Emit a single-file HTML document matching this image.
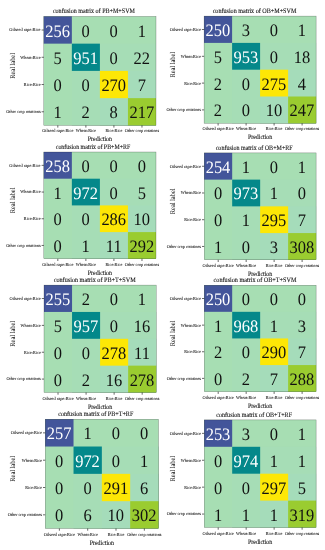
<!DOCTYPE html>
<html><head><meta charset="utf-8"><title>confusion matrices</title>
<style>html,body{margin:0;padding:0;background:#fff}svg{display:block}text{font-family:"Liberation Serif",serif;fill:#111;text-rendering:geometricPrecision}.t{fill:#000;stroke:#000;stroke-width:.04px}.s{stroke:#111;stroke-width:.1px}</style></head>
<body>
<svg width="325" height="550" viewBox="0 0 325 550">
<rect width="325" height="550" fill="#fff"/>
<g>
<rect x="43.8" y="16.4" width="112.2" height="109" fill="#a7deb3"/>
<rect x="71.85" y="43.65" width="84.15" height="81.75" fill="#a6ddb6"/>
<rect x="99.9" y="70.9" width="56.1" height="54.5" fill="#a5dcba"/>
<rect x="43.8" y="16.4" width="28.05" height="27.25" fill="#43559a"/>
<rect x="71.85" y="43.65" width="28.05" height="27.25" fill="#04888a"/>
<rect x="99.9" y="70.9" width="28.05" height="27.25" fill="#fde706"/>
<rect x="127.95" y="98.15" width="28.05" height="27.25" fill="#9acc30"/>
<rect x="43.8" y="16.4" width="112.2" height="109" fill="none" stroke="#000" stroke-width=".4" opacity=".5"/>
<text x="52.9" y="13.2" font-size="6.9" class="s" textLength="82" lengthAdjust="spacingAndGlyphs">confusion matrix of PB+M+SVM</text>
<text transform="translate(57.62 36.52) scale(.94 1)" text-anchor="middle" font-size="17.5" style="fill:#fff">256</text>
<text transform="translate(85.67 36.52) scale(.94 1)" text-anchor="middle" font-size="17.5" style="fill:#111">0</text>
<text transform="translate(113.72 36.52) scale(.94 1)" text-anchor="middle" font-size="17.5" style="fill:#111">0</text>
<text transform="translate(141.78 36.52) scale(.94 1)" text-anchor="middle" font-size="17.5" style="fill:#111">1</text>
<text transform="translate(57.62 63.77) scale(.94 1)" text-anchor="middle" font-size="17.5" style="fill:#111">5</text>
<text transform="translate(85.67 63.77) scale(.94 1)" text-anchor="middle" font-size="17.5" style="fill:#fff">951</text>
<text transform="translate(113.72 63.77) scale(.94 1)" text-anchor="middle" font-size="17.5" style="fill:#111">0</text>
<text transform="translate(141.78 63.77) scale(.94 1)" text-anchor="middle" font-size="17.5" style="fill:#111">22</text>
<text transform="translate(57.62 91.03) scale(.94 1)" text-anchor="middle" font-size="17.5" style="fill:#111">0</text>
<text transform="translate(85.67 91.03) scale(.94 1)" text-anchor="middle" font-size="17.5" style="fill:#111">0</text>
<text transform="translate(113.72 91.03) scale(.94 1)" text-anchor="middle" font-size="17.5" style="fill:#111">270</text>
<text transform="translate(141.78 91.03) scale(.94 1)" text-anchor="middle" font-size="17.5" style="fill:#111">7</text>
<text transform="translate(57.62 118.28) scale(.94 1)" text-anchor="middle" font-size="17.5" style="fill:#111">1</text>
<text transform="translate(85.67 118.28) scale(.94 1)" text-anchor="middle" font-size="17.5" style="fill:#111">2</text>
<text transform="translate(113.72 118.28) scale(.94 1)" text-anchor="middle" font-size="17.5" style="fill:#111">8</text>
<text transform="translate(141.78 118.28) scale(.94 1)" text-anchor="middle" font-size="17.5" style="fill:#111">217</text>
<path d="M41.6 30.02H43.8M57.82 125.4V127.6" stroke="#000" stroke-width=".6" fill="none"/>
<text class="t" x="9.35" y="31.42" font-size="4.5" textLength="31.2" lengthAdjust="spacingAndGlyphs">Oilseed rape-Rice</text>
<text class="t" x="42.22" y="132.4" font-size="4.5" textLength="31.2" lengthAdjust="spacingAndGlyphs">Oilseed rape-Rice</text>
<path d="M41.6 57.27H43.8M85.88 125.4V127.6" stroke="#000" stroke-width=".6" fill="none"/>
<text class="t" x="20.35" y="58.67" font-size="4.5" textLength="20.2" lengthAdjust="spacingAndGlyphs">Wheat-Rice</text>
<text class="t" x="75.78" y="132.4" font-size="4.5" textLength="20.2" lengthAdjust="spacingAndGlyphs">Wheat-Rice</text>
<path d="M41.6 84.53H43.8M113.92 125.4V127.6" stroke="#000" stroke-width=".6" fill="none"/>
<text class="t" x="23.85" y="85.93" font-size="4.5" textLength="16.7" lengthAdjust="spacingAndGlyphs">Rice-Rice</text>
<text class="t" x="105.58" y="132.4" font-size="4.5" textLength="16.7" lengthAdjust="spacingAndGlyphs">Rice-Rice</text>
<path d="M41.6 111.78H43.8M141.97 125.4V127.6" stroke="#000" stroke-width=".6" fill="none"/>
<text class="t" x="6.25" y="113.18" font-size="4.5" textLength="34.3" lengthAdjust="spacingAndGlyphs">Other crop rotations</text>
<text class="t" x="124.82" y="132.4" font-size="4.5" textLength="34.3" lengthAdjust="spacingAndGlyphs">Other crop rotations</text>
<text x="87.8" y="141.4" class="s" font-size="6.9" textLength="24.2" lengthAdjust="spacingAndGlyphs">Prediction</text>
<text transform="translate(14.5 78.75) rotate(-90)" font-size="7.3" textLength="25.7" lengthAdjust="spacingAndGlyphs">Real label</text>
</g>
<g>
<rect x="204.1" y="16.1" width="112" height="107.2" fill="#a7deb3"/>
<rect x="232.1" y="42.9" width="84" height="80.4" fill="#a6ddb6"/>
<rect x="260.1" y="69.7" width="56" height="53.6" fill="#a5dcba"/>
<rect x="204.1" y="16.1" width="28" height="26.8" fill="#43559a"/>
<rect x="232.1" y="42.9" width="28" height="26.8" fill="#04888a"/>
<rect x="260.1" y="69.7" width="28" height="26.8" fill="#fde706"/>
<rect x="288.1" y="96.5" width="28" height="26.8" fill="#9acc30"/>
<rect x="204.1" y="16.1" width="112" height="107.2" fill="none" stroke="#000" stroke-width=".4" opacity=".5"/>
<text x="212.65" y="12.9" font-size="6.9" class="s" textLength="83.7" lengthAdjust="spacingAndGlyphs">confusion matrix of OB+M+SVM</text>
<text transform="translate(217.9 36) scale(.94 1)" text-anchor="middle" font-size="17.5" style="fill:#fff">250</text>
<text transform="translate(245.9 36) scale(.94 1)" text-anchor="middle" font-size="17.5" style="fill:#111">3</text>
<text transform="translate(273.9 36) scale(.94 1)" text-anchor="middle" font-size="17.5" style="fill:#111">0</text>
<text transform="translate(301.9 36) scale(.94 1)" text-anchor="middle" font-size="17.5" style="fill:#111">1</text>
<text transform="translate(217.9 62.8) scale(.94 1)" text-anchor="middle" font-size="17.5" style="fill:#111">5</text>
<text transform="translate(245.9 62.8) scale(.94 1)" text-anchor="middle" font-size="17.5" style="fill:#fff">953</text>
<text transform="translate(273.9 62.8) scale(.94 1)" text-anchor="middle" font-size="17.5" style="fill:#111">0</text>
<text transform="translate(301.9 62.8) scale(.94 1)" text-anchor="middle" font-size="17.5" style="fill:#111">18</text>
<text transform="translate(217.9 89.6) scale(.94 1)" text-anchor="middle" font-size="17.5" style="fill:#111">2</text>
<text transform="translate(245.9 89.6) scale(.94 1)" text-anchor="middle" font-size="17.5" style="fill:#111">0</text>
<text transform="translate(273.9 89.6) scale(.94 1)" text-anchor="middle" font-size="17.5" style="fill:#111">275</text>
<text transform="translate(301.9 89.6) scale(.94 1)" text-anchor="middle" font-size="17.5" style="fill:#111">4</text>
<text transform="translate(217.9 116.4) scale(.94 1)" text-anchor="middle" font-size="17.5" style="fill:#111">2</text>
<text transform="translate(245.9 116.4) scale(.94 1)" text-anchor="middle" font-size="17.5" style="fill:#111">0</text>
<text transform="translate(273.9 116.4) scale(.94 1)" text-anchor="middle" font-size="17.5" style="fill:#111">10</text>
<text transform="translate(301.9 116.4) scale(.94 1)" text-anchor="middle" font-size="17.5" style="fill:#111">247</text>
<path d="M201.9 29.5H204.1M218.1 123.3V125.5" stroke="#000" stroke-width=".6" fill="none"/>
<text class="t" x="169.65" y="30.9" font-size="4.5" textLength="31.2" lengthAdjust="spacingAndGlyphs">Oilseed rape-Rice</text>
<text class="t" x="202.5" y="130.3" font-size="4.5" textLength="31.2" lengthAdjust="spacingAndGlyphs">Oilseed rape-Rice</text>
<path d="M201.9 56.3H204.1M246.1 123.3V125.5" stroke="#000" stroke-width=".6" fill="none"/>
<text class="t" x="180.65" y="57.7" font-size="4.5" textLength="20.2" lengthAdjust="spacingAndGlyphs">Wheat-Rice</text>
<text class="t" x="236" y="130.3" font-size="4.5" textLength="20.2" lengthAdjust="spacingAndGlyphs">Wheat-Rice</text>
<path d="M201.9 83.1H204.1M274.1 123.3V125.5" stroke="#000" stroke-width=".6" fill="none"/>
<text class="t" x="184.15" y="84.5" font-size="4.5" textLength="16.7" lengthAdjust="spacingAndGlyphs">Rice-Rice</text>
<text class="t" x="265.75" y="130.3" font-size="4.5" textLength="16.7" lengthAdjust="spacingAndGlyphs">Rice-Rice</text>
<path d="M201.9 109.9H204.1M302.1 123.3V125.5" stroke="#000" stroke-width=".6" fill="none"/>
<text class="t" x="166.55" y="111.3" font-size="4.5" textLength="34.3" lengthAdjust="spacingAndGlyphs">Other crop rotations</text>
<text class="t" x="284.95" y="130.3" font-size="4.5" textLength="34.3" lengthAdjust="spacingAndGlyphs">Other crop rotations</text>
<text x="248" y="139.3" class="s" font-size="6.9" textLength="24.2" lengthAdjust="spacingAndGlyphs">Prediction</text>
<text transform="translate(174.5 77.55) rotate(-90)" font-size="7.3" textLength="25.7" lengthAdjust="spacingAndGlyphs">Real label</text>
</g>
<g>
<rect x="43.8" y="152" width="112.2" height="106.8" fill="#a7deb3"/>
<rect x="71.85" y="178.7" width="84.15" height="80.1" fill="#a6ddb6"/>
<rect x="99.9" y="205.4" width="56.1" height="53.4" fill="#a5dcba"/>
<rect x="43.8" y="152" width="28.05" height="26.7" fill="#43559a"/>
<rect x="71.85" y="178.7" width="28.05" height="26.7" fill="#04888a"/>
<rect x="99.9" y="205.4" width="28.05" height="26.7" fill="#fde706"/>
<rect x="127.95" y="232.1" width="28.05" height="26.7" fill="#9acc30"/>
<rect x="43.8" y="152" width="112.2" height="106.8" fill="none" stroke="#000" stroke-width=".4" opacity=".5"/>
<text x="55.8" y="148.8" font-size="6.9" class="s" textLength="74.4" lengthAdjust="spacingAndGlyphs">confusion matrix of PB+M+RF</text>
<text transform="translate(57.62 171.85) scale(.94 1)" text-anchor="middle" font-size="17.5" style="fill:#fff">258</text>
<text transform="translate(85.67 171.85) scale(.94 1)" text-anchor="middle" font-size="17.5" style="fill:#111">0</text>
<text transform="translate(113.72 171.85) scale(.94 1)" text-anchor="middle" font-size="17.5" style="fill:#111">0</text>
<text transform="translate(141.78 171.85) scale(.94 1)" text-anchor="middle" font-size="17.5" style="fill:#111">0</text>
<text transform="translate(57.62 198.55) scale(.94 1)" text-anchor="middle" font-size="17.5" style="fill:#111">1</text>
<text transform="translate(85.67 198.55) scale(.94 1)" text-anchor="middle" font-size="17.5" style="fill:#fff">972</text>
<text transform="translate(113.72 198.55) scale(.94 1)" text-anchor="middle" font-size="17.5" style="fill:#111">0</text>
<text transform="translate(141.78 198.55) scale(.94 1)" text-anchor="middle" font-size="17.5" style="fill:#111">5</text>
<text transform="translate(57.62 225.25) scale(.94 1)" text-anchor="middle" font-size="17.5" style="fill:#111">0</text>
<text transform="translate(85.67 225.25) scale(.94 1)" text-anchor="middle" font-size="17.5" style="fill:#111">0</text>
<text transform="translate(113.72 225.25) scale(.94 1)" text-anchor="middle" font-size="17.5" style="fill:#111">286</text>
<text transform="translate(141.78 225.25) scale(.94 1)" text-anchor="middle" font-size="17.5" style="fill:#111">10</text>
<text transform="translate(57.62 251.95) scale(.94 1)" text-anchor="middle" font-size="17.5" style="fill:#111">0</text>
<text transform="translate(85.67 251.95) scale(.94 1)" text-anchor="middle" font-size="17.5" style="fill:#111">1</text>
<text transform="translate(113.72 251.95) scale(.94 1)" text-anchor="middle" font-size="17.5" style="fill:#111">11</text>
<text transform="translate(141.78 251.95) scale(.94 1)" text-anchor="middle" font-size="17.5" style="fill:#111">292</text>
<path d="M41.6 165.35H43.8M57.82 258.8V261" stroke="#000" stroke-width=".6" fill="none"/>
<text class="t" x="9.35" y="166.75" font-size="4.5" textLength="31.2" lengthAdjust="spacingAndGlyphs">Oilseed rape-Rice</text>
<text class="t" x="42.22" y="265.8" font-size="4.5" textLength="31.2" lengthAdjust="spacingAndGlyphs">Oilseed rape-Rice</text>
<path d="M41.6 192.05H43.8M85.88 258.8V261" stroke="#000" stroke-width=".6" fill="none"/>
<text class="t" x="20.35" y="193.45" font-size="4.5" textLength="20.2" lengthAdjust="spacingAndGlyphs">Wheat-Rice</text>
<text class="t" x="75.78" y="265.8" font-size="4.5" textLength="20.2" lengthAdjust="spacingAndGlyphs">Wheat-Rice</text>
<path d="M41.6 218.75H43.8M113.92 258.8V261" stroke="#000" stroke-width=".6" fill="none"/>
<text class="t" x="23.85" y="220.15" font-size="4.5" textLength="16.7" lengthAdjust="spacingAndGlyphs">Rice-Rice</text>
<text class="t" x="105.58" y="265.8" font-size="4.5" textLength="16.7" lengthAdjust="spacingAndGlyphs">Rice-Rice</text>
<path d="M41.6 245.45H43.8M141.97 258.8V261" stroke="#000" stroke-width=".6" fill="none"/>
<text class="t" x="6.25" y="246.85" font-size="4.5" textLength="34.3" lengthAdjust="spacingAndGlyphs">Other crop rotations</text>
<text class="t" x="124.82" y="265.8" font-size="4.5" textLength="34.3" lengthAdjust="spacingAndGlyphs">Other crop rotations</text>
<text x="87.8" y="274.8" class="s" font-size="6.9" textLength="24.2" lengthAdjust="spacingAndGlyphs">Prediction</text>
<text transform="translate(14.5 213.25) rotate(-90)" font-size="7.3" textLength="25.7" lengthAdjust="spacingAndGlyphs">Real label</text>
</g>
<g>
<rect x="204.2" y="152.9" width="111.9" height="106.9" fill="#a7deb3"/>
<rect x="232.18" y="179.62" width="83.93" height="80.18" fill="#a6ddb6"/>
<rect x="260.15" y="206.35" width="55.95" height="53.45" fill="#a5dcba"/>
<rect x="204.2" y="152.9" width="27.98" height="26.73" fill="#43559a"/>
<rect x="232.18" y="179.62" width="27.98" height="26.73" fill="#04888a"/>
<rect x="260.15" y="206.35" width="27.98" height="26.73" fill="#fde706"/>
<rect x="288.12" y="233.08" width="27.98" height="26.73" fill="#9acc30"/>
<rect x="204.2" y="152.9" width="111.9" height="106.9" fill="none" stroke="#000" stroke-width=".4" opacity=".5"/>
<text x="215.7" y="149.7" font-size="6.9" class="s" textLength="77" lengthAdjust="spacingAndGlyphs">confusion matrix of OB+M+RF</text>
<text transform="translate(217.99 172.76) scale(.94 1)" text-anchor="middle" font-size="17.5" style="fill:#fff">254</text>
<text transform="translate(245.96 172.76) scale(.94 1)" text-anchor="middle" font-size="17.5" style="fill:#111">1</text>
<text transform="translate(273.94 172.76) scale(.94 1)" text-anchor="middle" font-size="17.5" style="fill:#111">0</text>
<text transform="translate(301.91 172.76) scale(.94 1)" text-anchor="middle" font-size="17.5" style="fill:#111">1</text>
<text transform="translate(217.99 199.49) scale(.94 1)" text-anchor="middle" font-size="17.5" style="fill:#111">0</text>
<text transform="translate(245.96 199.49) scale(.94 1)" text-anchor="middle" font-size="17.5" style="fill:#fff">973</text>
<text transform="translate(273.94 199.49) scale(.94 1)" text-anchor="middle" font-size="17.5" style="fill:#111">1</text>
<text transform="translate(301.91 199.49) scale(.94 1)" text-anchor="middle" font-size="17.5" style="fill:#111">0</text>
<text transform="translate(217.99 226.21) scale(.94 1)" text-anchor="middle" font-size="17.5" style="fill:#111">0</text>
<text transform="translate(245.96 226.21) scale(.94 1)" text-anchor="middle" font-size="17.5" style="fill:#111">1</text>
<text transform="translate(273.94 226.21) scale(.94 1)" text-anchor="middle" font-size="17.5" style="fill:#111">295</text>
<text transform="translate(301.91 226.21) scale(.94 1)" text-anchor="middle" font-size="17.5" style="fill:#111">7</text>
<text transform="translate(217.99 252.94) scale(.94 1)" text-anchor="middle" font-size="17.5" style="fill:#111">1</text>
<text transform="translate(245.96 252.94) scale(.94 1)" text-anchor="middle" font-size="17.5" style="fill:#111">0</text>
<text transform="translate(273.94 252.94) scale(.94 1)" text-anchor="middle" font-size="17.5" style="fill:#111">3</text>
<text transform="translate(301.91 252.94) scale(.94 1)" text-anchor="middle" font-size="17.5" style="fill:#111">308</text>
<path d="M202 166.26H204.2M218.19 259.8V262" stroke="#000" stroke-width=".6" fill="none"/>
<text class="t" x="169.75" y="167.66" font-size="4.5" textLength="31.2" lengthAdjust="spacingAndGlyphs">Oilseed rape-Rice</text>
<text class="t" x="202.59" y="266.8" font-size="4.5" textLength="31.2" lengthAdjust="spacingAndGlyphs">Oilseed rape-Rice</text>
<path d="M202 192.99H204.2M246.16 259.8V262" stroke="#000" stroke-width=".6" fill="none"/>
<text class="t" x="180.75" y="194.39" font-size="4.5" textLength="20.2" lengthAdjust="spacingAndGlyphs">Wheat-Rice</text>
<text class="t" x="236.06" y="266.8" font-size="4.5" textLength="20.2" lengthAdjust="spacingAndGlyphs">Wheat-Rice</text>
<path d="M202 219.71H204.2M274.14 259.8V262" stroke="#000" stroke-width=".6" fill="none"/>
<text class="t" x="184.25" y="221.11" font-size="4.5" textLength="16.7" lengthAdjust="spacingAndGlyphs">Rice-Rice</text>
<text class="t" x="265.79" y="266.8" font-size="4.5" textLength="16.7" lengthAdjust="spacingAndGlyphs">Rice-Rice</text>
<path d="M202 246.44H204.2M302.11 259.8V262" stroke="#000" stroke-width=".6" fill="none"/>
<text class="t" x="166.65" y="247.84" font-size="4.5" textLength="34.3" lengthAdjust="spacingAndGlyphs">Other crop rotations</text>
<text class="t" x="284.96" y="266.8" font-size="4.5" textLength="34.3" lengthAdjust="spacingAndGlyphs">Other crop rotations</text>
<text x="248.05" y="275.8" class="s" font-size="6.9" textLength="24.2" lengthAdjust="spacingAndGlyphs">Prediction</text>
<text transform="translate(174.6 214.2) rotate(-90)" font-size="7.3" textLength="25.7" lengthAdjust="spacingAndGlyphs">Real label</text>
</g>
<g>
<rect x="44" y="285.1" width="112.2" height="107.4" fill="#a7deb3"/>
<rect x="72.05" y="311.95" width="84.15" height="80.55" fill="#a6ddb6"/>
<rect x="100.1" y="338.8" width="56.1" height="53.7" fill="#a5dcba"/>
<rect x="44" y="285.1" width="28.05" height="26.85" fill="#43559a"/>
<rect x="72.05" y="311.95" width="28.05" height="26.85" fill="#04888a"/>
<rect x="100.1" y="338.8" width="28.05" height="26.85" fill="#fde706"/>
<rect x="128.15" y="365.65" width="28.05" height="26.85" fill="#9acc30"/>
<rect x="44" y="285.1" width="112.2" height="107.4" fill="none" stroke="#000" stroke-width=".4" opacity=".5"/>
<text x="53.7" y="281.9" font-size="6.9" class="s" textLength="82" lengthAdjust="spacingAndGlyphs">confusion matrix of PB+T+SVM</text>
<text transform="translate(57.83 305.03) scale(.94 1)" text-anchor="middle" font-size="17.5" style="fill:#fff">255</text>
<text transform="translate(85.88 305.03) scale(.94 1)" text-anchor="middle" font-size="17.5" style="fill:#111">2</text>
<text transform="translate(113.93 305.03) scale(.94 1)" text-anchor="middle" font-size="17.5" style="fill:#111">0</text>
<text transform="translate(141.98 305.03) scale(.94 1)" text-anchor="middle" font-size="17.5" style="fill:#111">1</text>
<text transform="translate(57.83 331.88) scale(.94 1)" text-anchor="middle" font-size="17.5" style="fill:#111">5</text>
<text transform="translate(85.88 331.88) scale(.94 1)" text-anchor="middle" font-size="17.5" style="fill:#fff">957</text>
<text transform="translate(113.93 331.88) scale(.94 1)" text-anchor="middle" font-size="17.5" style="fill:#111">0</text>
<text transform="translate(141.98 331.88) scale(.94 1)" text-anchor="middle" font-size="17.5" style="fill:#111">16</text>
<text transform="translate(57.83 358.73) scale(.94 1)" text-anchor="middle" font-size="17.5" style="fill:#111">0</text>
<text transform="translate(85.88 358.73) scale(.94 1)" text-anchor="middle" font-size="17.5" style="fill:#111">0</text>
<text transform="translate(113.93 358.73) scale(.94 1)" text-anchor="middle" font-size="17.5" style="fill:#111">278</text>
<text transform="translate(141.98 358.73) scale(.94 1)" text-anchor="middle" font-size="17.5" style="fill:#111">11</text>
<text transform="translate(57.83 385.57) scale(.94 1)" text-anchor="middle" font-size="17.5" style="fill:#111">0</text>
<text transform="translate(85.88 385.57) scale(.94 1)" text-anchor="middle" font-size="17.5" style="fill:#111">2</text>
<text transform="translate(113.93 385.57) scale(.94 1)" text-anchor="middle" font-size="17.5" style="fill:#111">16</text>
<text transform="translate(141.98 385.57) scale(.94 1)" text-anchor="middle" font-size="17.5" style="fill:#111">278</text>
<path d="M41.8 298.53H44M58.03 392.5V394.7" stroke="#000" stroke-width=".6" fill="none"/>
<text class="t" x="9.55" y="299.93" font-size="4.5" textLength="31.2" lengthAdjust="spacingAndGlyphs">Oilseed rape-Rice</text>
<text class="t" x="42.43" y="399.5" font-size="4.5" textLength="31.2" lengthAdjust="spacingAndGlyphs">Oilseed rape-Rice</text>
<path d="M41.8 325.38H44M86.08 392.5V394.7" stroke="#000" stroke-width=".6" fill="none"/>
<text class="t" x="20.55" y="326.77" font-size="4.5" textLength="20.2" lengthAdjust="spacingAndGlyphs">Wheat-Rice</text>
<text class="t" x="75.98" y="399.5" font-size="4.5" textLength="20.2" lengthAdjust="spacingAndGlyphs">Wheat-Rice</text>
<path d="M41.8 352.23H44M114.13 392.5V394.7" stroke="#000" stroke-width=".6" fill="none"/>
<text class="t" x="24.05" y="353.62" font-size="4.5" textLength="16.7" lengthAdjust="spacingAndGlyphs">Rice-Rice</text>
<text class="t" x="105.78" y="399.5" font-size="4.5" textLength="16.7" lengthAdjust="spacingAndGlyphs">Rice-Rice</text>
<path d="M41.8 379.07H44M142.18 392.5V394.7" stroke="#000" stroke-width=".6" fill="none"/>
<text class="t" x="6.45" y="380.47" font-size="4.5" textLength="34.3" lengthAdjust="spacingAndGlyphs">Other crop rotations</text>
<text class="t" x="125.03" y="399.5" font-size="4.5" textLength="34.3" lengthAdjust="spacingAndGlyphs">Other crop rotations</text>
<text x="88" y="408.5" class="s" font-size="6.9" textLength="24.2" lengthAdjust="spacingAndGlyphs">Prediction</text>
<text transform="translate(14.5 346.65) rotate(-90)" font-size="7.3" textLength="25.7" lengthAdjust="spacingAndGlyphs">Real label</text>
</g>
<g>
<rect x="204.2" y="285.2" width="111.9" height="106.5" fill="#a7deb3"/>
<rect x="232.18" y="311.82" width="83.93" height="79.88" fill="#a6ddb6"/>
<rect x="260.15" y="338.45" width="55.95" height="53.25" fill="#a5dcba"/>
<rect x="204.2" y="285.2" width="27.98" height="26.62" fill="#43559a"/>
<rect x="232.18" y="311.82" width="27.98" height="26.62" fill="#04888a"/>
<rect x="260.15" y="338.45" width="27.98" height="26.62" fill="#fde706"/>
<rect x="288.12" y="365.07" width="27.98" height="26.62" fill="#9acc30"/>
<rect x="204.2" y="285.2" width="111.9" height="106.5" fill="none" stroke="#000" stroke-width=".4" opacity=".5"/>
<text x="213.6" y="282" font-size="6.9" class="s" textLength="82.8" lengthAdjust="spacingAndGlyphs">confusion matrix of OB+T+SVM</text>
<text transform="translate(217.99 305.01) scale(.94 1)" text-anchor="middle" font-size="17.5" style="fill:#fff">250</text>
<text transform="translate(245.96 305.01) scale(.94 1)" text-anchor="middle" font-size="17.5" style="fill:#111">0</text>
<text transform="translate(273.94 305.01) scale(.94 1)" text-anchor="middle" font-size="17.5" style="fill:#111">0</text>
<text transform="translate(301.91 305.01) scale(.94 1)" text-anchor="middle" font-size="17.5" style="fill:#111">0</text>
<text transform="translate(217.99 331.64) scale(.94 1)" text-anchor="middle" font-size="17.5" style="fill:#111">1</text>
<text transform="translate(245.96 331.64) scale(.94 1)" text-anchor="middle" font-size="17.5" style="fill:#fff">968</text>
<text transform="translate(273.94 331.64) scale(.94 1)" text-anchor="middle" font-size="17.5" style="fill:#111">1</text>
<text transform="translate(301.91 331.64) scale(.94 1)" text-anchor="middle" font-size="17.5" style="fill:#111">3</text>
<text transform="translate(217.99 358.26) scale(.94 1)" text-anchor="middle" font-size="17.5" style="fill:#111">2</text>
<text transform="translate(245.96 358.26) scale(.94 1)" text-anchor="middle" font-size="17.5" style="fill:#111">0</text>
<text transform="translate(273.94 358.26) scale(.94 1)" text-anchor="middle" font-size="17.5" style="fill:#111">290</text>
<text transform="translate(301.91 358.26) scale(.94 1)" text-anchor="middle" font-size="17.5" style="fill:#111">7</text>
<text transform="translate(217.99 384.89) scale(.94 1)" text-anchor="middle" font-size="17.5" style="fill:#111">0</text>
<text transform="translate(245.96 384.89) scale(.94 1)" text-anchor="middle" font-size="17.5" style="fill:#111">2</text>
<text transform="translate(273.94 384.89) scale(.94 1)" text-anchor="middle" font-size="17.5" style="fill:#111">7</text>
<text transform="translate(301.91 384.89) scale(.94 1)" text-anchor="middle" font-size="17.5" style="fill:#111">288</text>
<path d="M202 298.51H204.2M218.19 391.7V393.9" stroke="#000" stroke-width=".6" fill="none"/>
<text class="t" x="169.75" y="299.91" font-size="4.5" textLength="31.2" lengthAdjust="spacingAndGlyphs">Oilseed rape-Rice</text>
<text class="t" x="202.59" y="398.7" font-size="4.5" textLength="31.2" lengthAdjust="spacingAndGlyphs">Oilseed rape-Rice</text>
<path d="M202 325.14H204.2M246.16 391.7V393.9" stroke="#000" stroke-width=".6" fill="none"/>
<text class="t" x="180.75" y="326.54" font-size="4.5" textLength="20.2" lengthAdjust="spacingAndGlyphs">Wheat-Rice</text>
<text class="t" x="236.06" y="398.7" font-size="4.5" textLength="20.2" lengthAdjust="spacingAndGlyphs">Wheat-Rice</text>
<path d="M202 351.76H204.2M274.14 391.7V393.9" stroke="#000" stroke-width=".6" fill="none"/>
<text class="t" x="184.25" y="353.16" font-size="4.5" textLength="16.7" lengthAdjust="spacingAndGlyphs">Rice-Rice</text>
<text class="t" x="265.79" y="398.7" font-size="4.5" textLength="16.7" lengthAdjust="spacingAndGlyphs">Rice-Rice</text>
<path d="M202 378.39H204.2M302.11 391.7V393.9" stroke="#000" stroke-width=".6" fill="none"/>
<text class="t" x="166.65" y="379.79" font-size="4.5" textLength="34.3" lengthAdjust="spacingAndGlyphs">Other crop rotations</text>
<text class="t" x="284.96" y="398.7" font-size="4.5" textLength="34.3" lengthAdjust="spacingAndGlyphs">Other crop rotations</text>
<text x="248.05" y="407.7" class="s" font-size="6.9" textLength="24.2" lengthAdjust="spacingAndGlyphs">Prediction</text>
<text transform="translate(174.6 346.3) rotate(-90)" font-size="7.3" textLength="25.7" lengthAdjust="spacingAndGlyphs">Real label</text>
</g>
<g>
<rect x="45.2" y="419.2" width="113.3" height="109.3" fill="#a7deb3"/>
<rect x="73.53" y="446.52" width="84.97" height="81.98" fill="#a6ddb6"/>
<rect x="101.85" y="473.85" width="56.65" height="54.65" fill="#a5dcba"/>
<rect x="45.2" y="419.2" width="28.32" height="27.33" fill="#43559a"/>
<rect x="73.53" y="446.52" width="28.32" height="27.33" fill="#04888a"/>
<rect x="101.85" y="473.85" width="28.32" height="27.33" fill="#fde706"/>
<rect x="130.18" y="501.18" width="28.32" height="27.33" fill="#9acc30"/>
<rect x="45.2" y="419.2" width="113.3" height="109.3" fill="none" stroke="#000" stroke-width=".4" opacity=".5"/>
<text x="58.3" y="416" font-size="6.9" class="s" textLength="75" lengthAdjust="spacingAndGlyphs">confusion matrix of PB+T+RF</text>
<text transform="translate(59.16 439.36) scale(.94 1)" text-anchor="middle" font-size="17.5" style="fill:#fff">257</text>
<text transform="translate(87.49 439.36) scale(.94 1)" text-anchor="middle" font-size="17.5" style="fill:#111">1</text>
<text transform="translate(115.81 439.36) scale(.94 1)" text-anchor="middle" font-size="17.5" style="fill:#111">0</text>
<text transform="translate(144.14 439.36) scale(.94 1)" text-anchor="middle" font-size="17.5" style="fill:#111">0</text>
<text transform="translate(59.16 466.69) scale(.94 1)" text-anchor="middle" font-size="17.5" style="fill:#111">0</text>
<text transform="translate(87.49 466.69) scale(.94 1)" text-anchor="middle" font-size="17.5" style="fill:#fff">972</text>
<text transform="translate(115.81 466.69) scale(.94 1)" text-anchor="middle" font-size="17.5" style="fill:#111">0</text>
<text transform="translate(144.14 466.69) scale(.94 1)" text-anchor="middle" font-size="17.5" style="fill:#111">1</text>
<text transform="translate(59.16 494.01) scale(.94 1)" text-anchor="middle" font-size="17.5" style="fill:#111">0</text>
<text transform="translate(87.49 494.01) scale(.94 1)" text-anchor="middle" font-size="17.5" style="fill:#111">0</text>
<text transform="translate(115.81 494.01) scale(.94 1)" text-anchor="middle" font-size="17.5" style="fill:#111">291</text>
<text transform="translate(144.14 494.01) scale(.94 1)" text-anchor="middle" font-size="17.5" style="fill:#111">6</text>
<text transform="translate(59.16 521.34) scale(.94 1)" text-anchor="middle" font-size="17.5" style="fill:#111">0</text>
<text transform="translate(87.49 521.34) scale(.94 1)" text-anchor="middle" font-size="17.5" style="fill:#111">6</text>
<text transform="translate(115.81 521.34) scale(.94 1)" text-anchor="middle" font-size="17.5" style="fill:#111">10</text>
<text transform="translate(144.14 521.34) scale(.94 1)" text-anchor="middle" font-size="17.5" style="fill:#111">302</text>
<path d="M43 432.86H45.2M59.36 528.5V530.7" stroke="#000" stroke-width=".6" fill="none"/>
<text class="t" x="10.75" y="434.26" font-size="4.5" textLength="31.2" lengthAdjust="spacingAndGlyphs">Oilseed rape-Rice</text>
<text class="t" x="43.76" y="535.5" font-size="4.5" textLength="31.2" lengthAdjust="spacingAndGlyphs">Oilseed rape-Rice</text>
<path d="M43 460.19H45.2M87.69 528.5V530.7" stroke="#000" stroke-width=".6" fill="none"/>
<text class="t" x="21.75" y="461.59" font-size="4.5" textLength="20.2" lengthAdjust="spacingAndGlyphs">Wheat-Rice</text>
<text class="t" x="77.59" y="535.5" font-size="4.5" textLength="20.2" lengthAdjust="spacingAndGlyphs">Wheat-Rice</text>
<path d="M43 487.51H45.2M116.01 528.5V530.7" stroke="#000" stroke-width=".6" fill="none"/>
<text class="t" x="25.25" y="488.91" font-size="4.5" textLength="16.7" lengthAdjust="spacingAndGlyphs">Rice-Rice</text>
<text class="t" x="107.66" y="535.5" font-size="4.5" textLength="16.7" lengthAdjust="spacingAndGlyphs">Rice-Rice</text>
<path d="M43 514.84H45.2M144.34 528.5V530.7" stroke="#000" stroke-width=".6" fill="none"/>
<text class="t" x="7.65" y="516.24" font-size="4.5" textLength="34.3" lengthAdjust="spacingAndGlyphs">Other crop rotations</text>
<text class="t" x="127.19" y="535.5" font-size="4.5" textLength="34.3" lengthAdjust="spacingAndGlyphs">Other crop rotations</text>
<text x="89.75" y="544.5" class="s" font-size="6.9" textLength="24.2" lengthAdjust="spacingAndGlyphs">Prediction</text>
<text transform="translate(14.5 481.7) rotate(-90)" font-size="7.3" textLength="25.7" lengthAdjust="spacingAndGlyphs">Real label</text>
</g>
<g>
<rect x="204.2" y="419.9" width="111.9" height="107.6" fill="#a7deb3"/>
<rect x="232.18" y="446.8" width="83.93" height="80.7" fill="#a6ddb6"/>
<rect x="260.15" y="473.7" width="55.95" height="53.8" fill="#a5dcba"/>
<rect x="204.2" y="419.9" width="27.98" height="26.9" fill="#43559a"/>
<rect x="232.18" y="446.8" width="27.98" height="26.9" fill="#04888a"/>
<rect x="260.15" y="473.7" width="27.98" height="26.9" fill="#fde706"/>
<rect x="288.12" y="500.6" width="27.98" height="26.9" fill="#9acc30"/>
<rect x="204.2" y="419.9" width="111.9" height="107.6" fill="none" stroke="#000" stroke-width=".4" opacity=".5"/>
<text x="216.35" y="416.7" font-size="6.9" class="s" textLength="75.7" lengthAdjust="spacingAndGlyphs">confusion matrix of OB+T+RF</text>
<text transform="translate(217.99 439.85) scale(.94 1)" text-anchor="middle" font-size="17.5" style="fill:#fff">253</text>
<text transform="translate(245.96 439.85) scale(.94 1)" text-anchor="middle" font-size="17.5" style="fill:#111">3</text>
<text transform="translate(273.94 439.85) scale(.94 1)" text-anchor="middle" font-size="17.5" style="fill:#111">0</text>
<text transform="translate(301.91 439.85) scale(.94 1)" text-anchor="middle" font-size="17.5" style="fill:#111">1</text>
<text transform="translate(217.99 466.75) scale(.94 1)" text-anchor="middle" font-size="17.5" style="fill:#111">0</text>
<text transform="translate(245.96 466.75) scale(.94 1)" text-anchor="middle" font-size="17.5" style="fill:#fff">974</text>
<text transform="translate(273.94 466.75) scale(.94 1)" text-anchor="middle" font-size="17.5" style="fill:#111">1</text>
<text transform="translate(301.91 466.75) scale(.94 1)" text-anchor="middle" font-size="17.5" style="fill:#111">1</text>
<text transform="translate(217.99 493.65) scale(.94 1)" text-anchor="middle" font-size="17.5" style="fill:#111">0</text>
<text transform="translate(245.96 493.65) scale(.94 1)" text-anchor="middle" font-size="17.5" style="fill:#111">0</text>
<text transform="translate(273.94 493.65) scale(.94 1)" text-anchor="middle" font-size="17.5" style="fill:#111">297</text>
<text transform="translate(301.91 493.65) scale(.94 1)" text-anchor="middle" font-size="17.5" style="fill:#111">5</text>
<text transform="translate(217.99 520.55) scale(.94 1)" text-anchor="middle" font-size="17.5" style="fill:#111">1</text>
<text transform="translate(245.96 520.55) scale(.94 1)" text-anchor="middle" font-size="17.5" style="fill:#111">1</text>
<text transform="translate(273.94 520.55) scale(.94 1)" text-anchor="middle" font-size="17.5" style="fill:#111">1</text>
<text transform="translate(301.91 520.55) scale(.94 1)" text-anchor="middle" font-size="17.5" style="fill:#111">319</text>
<path d="M202 433.35H204.2M218.19 527.5V529.7" stroke="#000" stroke-width=".6" fill="none"/>
<text class="t" x="169.75" y="434.75" font-size="4.5" textLength="31.2" lengthAdjust="spacingAndGlyphs">Oilseed rape-Rice</text>
<text class="t" x="202.59" y="534.5" font-size="4.5" textLength="31.2" lengthAdjust="spacingAndGlyphs">Oilseed rape-Rice</text>
<path d="M202 460.25H204.2M246.16 527.5V529.7" stroke="#000" stroke-width=".6" fill="none"/>
<text class="t" x="180.75" y="461.65" font-size="4.5" textLength="20.2" lengthAdjust="spacingAndGlyphs">Wheat-Rice</text>
<text class="t" x="236.06" y="534.5" font-size="4.5" textLength="20.2" lengthAdjust="spacingAndGlyphs">Wheat-Rice</text>
<path d="M202 487.15H204.2M274.14 527.5V529.7" stroke="#000" stroke-width=".6" fill="none"/>
<text class="t" x="184.25" y="488.55" font-size="4.5" textLength="16.7" lengthAdjust="spacingAndGlyphs">Rice-Rice</text>
<text class="t" x="265.79" y="534.5" font-size="4.5" textLength="16.7" lengthAdjust="spacingAndGlyphs">Rice-Rice</text>
<path d="M202 514.05H204.2M302.11 527.5V529.7" stroke="#000" stroke-width=".6" fill="none"/>
<text class="t" x="166.65" y="515.45" font-size="4.5" textLength="34.3" lengthAdjust="spacingAndGlyphs">Other crop rotations</text>
<text class="t" x="284.96" y="534.5" font-size="4.5" textLength="34.3" lengthAdjust="spacingAndGlyphs">Other crop rotations</text>
<text x="248.05" y="543.5" class="s" font-size="6.9" textLength="24.2" lengthAdjust="spacingAndGlyphs">Prediction</text>
<text transform="translate(174.6 481.55) rotate(-90)" font-size="7.3" textLength="25.7" lengthAdjust="spacingAndGlyphs">Real label</text>
</g>
</svg>
</body></html>
